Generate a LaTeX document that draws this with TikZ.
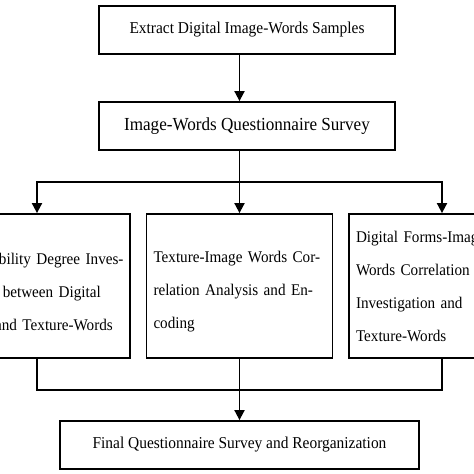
\documentclass[tikz,border=0pt]{standalone}
\usepackage{fontspec}
\setmainfont[FakeStretch=0.93]{Liberation Serif}
\usetikzlibrary{arrows.meta}

\tikzset{
	stage/.style={draw,line width=1.8pt,minimum height=48pt,font=\fontsize{16.6}{20}\selectfont},
	branch/.style={draw,line width=1.8pt,minimum width=186pt,minimum height=144pt,text width=172pt,align=left,inner xsep=7pt,font=\fontsize{16.3}{33}\selectfont},
	lowered/.style={text height=23pt},
	flow/.style={line width=1.8pt,-{Triangle[length=10pt,width=10pt]}},
	link/.style={line width=1.8pt}
}

\begin{document}
\begin{tikzpicture}[x=1pt,y=-1pt]

	\useasboundingbox (0,0) rectangle (474,474);

	% draw boxes

	\node[stage,minimum width=296pt] (extract) at (247,30) {Extract Digital Image-Words Samples};
	\node[stage,minimum width=296pt,font=\fontsize{18.4}{22}\selectfont] (survey) at (247,126) {Image-Words Questionnaire Survey};

	\node[branch,lowered] (suit) at (37,286) {\mbox{Applicability Degree Inves-}\\tigation between Digital\\Forms and Texture-Words};
	\node[branch,lowered] (analysis) at (239.5,286) {Texture-Image Words Cor-\\relation Analysis and En-\\coding};
	\node[branch] (rates) at (442,286) {Digital Forms-Image\\Words Correlation\\Investigation and\\Texture-Words};

	\node[stage,minimum width=359pt] (final) at (239.5,445) {Final Questionnaire Survey and Reorganization};

	\coordinate (split) at (239.5,182);
	\coordinate (merge) at (239.5,390);

	% connectors

	\draw[flow] (extract.south -| analysis) -- (survey.north -| analysis);
	\draw[flow] (survey.south -| analysis) -- (analysis.north);
	\draw[flow] (split) -- (split -| suit) -- (suit.north);
	\draw[flow] (split) -- (split -| rates) -- (rates.north);

	\draw[link] (suit.south) -- (suit.south |- merge) -- (rates.south |- merge) -- (rates.south);
	\draw[flow] (analysis.south) -- (final.north);

\end{tikzpicture}
\end{document}
